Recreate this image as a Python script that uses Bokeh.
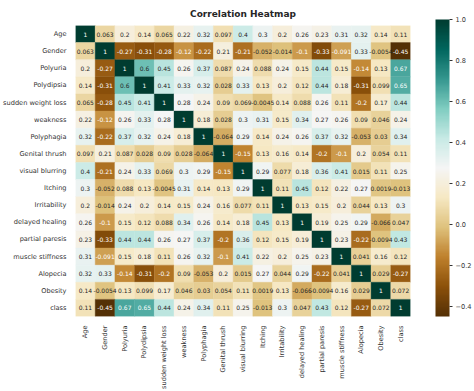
import math
from bokeh.plotting import figure
from bokeh.models import (ColumnDataSource, LinearColorMapper, ColorBar,
                          FixedTicker, CustomJSTickFormatter)
from bokeh.core.properties import value
from bokeh.embed import file_html
from bokeh.resources import INLINE

labels = ["Age", "Gender", "Polyuria", "Polydipsia", "sudden weight loss",
          "weakness", "Polyphagia", "Genital thrush", "visual blurring",
          "Itching", "Irritability", "delayed healing", "partial paresis",
          "muscle stiffness", "Alopecia", "Obesity", "class"]

r_age = [1, 0.063, 0.2, 0.14, 0.065, 0.22, 0.32, 0.097, 0.4, 0.3, 0.2, 0.26, 0.23, 0.31, 0.32, 0.14, 0.11]
r_gender = [0.063, 1, -0.27, -0.31, -0.28, -0.12, -0.22, 0.21, -0.21, -0.052, -0.014, -0.1, -0.33, -0.091, 0.33, -0.0054, -0.45]
r_polyuria = [0.2, -0.27, 1, 0.6, 0.45, 0.26, 0.37, 0.087, 0.24, 0.088, 0.24, 0.15, 0.44, 0.15, -0.14, 0.13, 0.67]
r_polydipsia = [0.14, -0.31, 0.6, 1, 0.41, 0.33, 0.32, 0.028, 0.33, 0.13, 0.2, 0.12, 0.44, 0.18, -0.31, 0.099, 0.65]
r_weightloss = [0.065, -0.28, 0.45, 0.41, 1, 0.28, 0.24, 0.09, 0.069, -0.0045, 0.14, 0.088, 0.26, 0.11, -0.2, 0.17, 0.44]
r_weakness = [0.22, -0.12, 0.26, 0.33, 0.28, 1, 0.18, 0.028, 0.3, 0.31, 0.15, 0.34, 0.27, 0.26, 0.09, 0.046, 0.24]
r_polyphagia = [0.32, -0.22, 0.37, 0.32, 0.24, 0.18, 1, -0.064, 0.29, 0.14, 0.24, 0.26, 0.37, 0.32, -0.053, 0.03, 0.34]
r_thrush = [0.097, 0.21, 0.087, 0.028, 0.09, 0.028, -0.064, 1, -0.15, 0.13, 0.16, 0.14, -0.2, -0.1, 0.2, 0.054, 0.11]
r_blurring = [0.4, -0.21, 0.24, 0.33, 0.069, 0.3, 0.29, -0.15, 1, 0.29, 0.077, 0.18, 0.36, 0.41, 0.015, 0.11, 0.25]
r_itching = [0.3, -0.052, 0.088, 0.13, -0.0045, 0.31, 0.14, 0.13, 0.29, 1, 0.11, 0.45, 0.12, 0.22, 0.27, 0.0019, -0.013]
r_irritability = [0.2, -0.014, 0.24, 0.2, 0.14, 0.15, 0.24, 0.16, 0.077, 0.11, 1, 0.13, 0.15, 0.2, 0.044, 0.13, 0.3]
r_healing = [0.26, -0.1, 0.15, 0.12, 0.088, 0.34, 0.26, 0.14, 0.18, 0.45, 0.13, 1, 0.19, 0.25, 0.29, -0.066, 0.047]
r_paresis = [0.23, -0.33, 0.44, 0.44, 0.26, 0.27, 0.37, -0.2, 0.36, 0.12, 0.15, 0.19, 1, 0.23, -0.22, -0.0094, 0.43]
r_stiffness = [0.31, -0.091, 0.15, 0.18, 0.11, 0.26, 0.32, -0.1, 0.41, 0.22, 0.2, 0.25, 0.23, 1, 0.041, 0.16, 0.12]
r_alopecia = [0.32, 0.33, -0.14, -0.31, -0.2, 0.09, -0.053, 0.2, 0.015, 0.27, 0.044, 0.29, -0.22, 0.041, 1, 0.029, -0.27]
r_obesity = [0.14, -0.0054, 0.13, 0.099, 0.17, 0.046, 0.03, 0.054, 0.11, 0.0019, 0.13, -0.066, -0.0094, 0.16, 0.029, 1, 0.072]
r_class = [0.11, -0.45, 0.67, 0.65, 0.44, 0.24, 0.34, 0.11, 0.25, -0.013, 0.3, 0.047, 0.43, 0.12, -0.27, 0.072, 1]

matrix = [r_age, r_gender, r_polyuria, r_polydipsia, r_weightloss, r_weakness,
          r_polyphagia, r_thrush, r_blurring, r_itching, r_irritability,
          r_healing, r_paresis, r_stiffness, r_alopecia, r_obesity, r_class]

# BrBG colormap (11 anchor colours, linearly interpolated to 256)
anchors = ["#543005", "#8c510a", "#bf812d", "#dfc27d", "#f6e8c3", "#f5f5f5",
           "#c7eae5", "#80cdc1", "#35978f", "#01665e", "#003c30"]


def hex2rgb(h):
    return tuple(int(h[i:i + 2], 16) for i in (1, 3, 5))


anc = [hex2rgb(a) for a in anchors]
palette = []
for i in range(256):
    t = i / 255 * 10
    k = min(int(t), 9)
    f = t - k
    c = [round(anc[k][j] + (anc[k + 1][j] - anc[k][j]) * f) for j in range(3)]
    palette.append("#%02x%02x%02x" % tuple(c))

vmin = min(min(r) for r in matrix)
vmax = max(max(r) for r in matrix)


def cmap(v):
    n = (v - vmin) / (vmax - vmin)
    return palette[max(0, min(int(n * 256), 255))]


def lum(hexc):
    out = []
    for c in hex2rgb(hexc):
        c = c / 255
        out.append(c / 12.92 if c <= 0.03928 else ((c + 0.055) / 1.055) ** 2.4)
    return 0.2126 * out[0] + 0.7152 * out[1] + 0.0722 * out[2]


xs, ys, vals, cols, tcols, txt = [], [], [], [], [], []
for i, row_name in enumerate(labels):
    for j, col_name in enumerate(labels):
        v = matrix[i][j]
        xs.append(col_name)
        ys.append(row_name)
        vals.append(v)
        c = cmap(v)
        cols.append(c)
        tcols.append("#262626" if lum(c) > 0.408 else "#ffffff")
        txt.append("{:.2g}".format(v))

src = ColumnDataSource(dict(x=xs, y=ys, v=vals, color=cols, tcolor=tcols, label=txt))

p = figure(width=474, height=391, x_range=labels, y_range=list(reversed(labels)),
           output_backend="svg", toolbar_location=None,
           min_border_left=67, min_border_right=58, min_border_top=22,
           min_border_bottom=72, title="Correlation Heatmap")

p.rect(x="x", y="y", width=1, height=1, source=src, fill_color="color",
       line_color="color", line_width=0.4)
p.text(x="x", y="y", text="label", source=src, text_color="tcolor",
       text_align="center", text_baseline="middle", text_font_size="6px",
       text_font=value("DejaVu Sans"))

p.title.align = "center"
p.title.text_font = "DejaVu Sans"
p.title.text_font_size = "9px"
p.title.text_font_style = "bold"
p.title.text_color = "#262626"
p.title.standoff = 13

p.grid.grid_line_color = None
p.outline_line_color = None
p.axis.axis_line_color = None
p.axis.major_tick_line_color = None
p.axis.minor_tick_line_color = None
p.axis.major_label_text_font = "DejaVu Sans"
p.axis.major_label_text_font_size = "6.6px"
p.axis.major_label_text_color = "#333333"
p.axis.major_label_standoff = 3
p.xaxis.major_label_orientation = math.pi / 2

mapper = LinearColorMapper(palette=palette, low=vmin, high=vmax)
cb = ColorBar(color_mapper=mapper, width=14, height=297,
              ticker=FixedTicker(ticks=[-0.4, -0.2, 0.0, 0.2, 0.4, 0.6, 0.8, 1.0]),
              formatter=CustomJSTickFormatter(code="return tick.toFixed(1).replace('-', '\u2212')"),
              major_label_text_font="DejaVu Sans", major_label_text_font_size="6.6px",
              major_label_text_color="#333333",
              major_tick_line_color="#333333", major_tick_in=0, major_tick_out=3,
              minor_tick_line_color=None, bar_line_color=None,
              padding=0, margin=0, label_standoff=3, location=(25, 0))
p.add_layout(cb, "right")

open("out.html", "w").write(file_html(p, INLINE))
